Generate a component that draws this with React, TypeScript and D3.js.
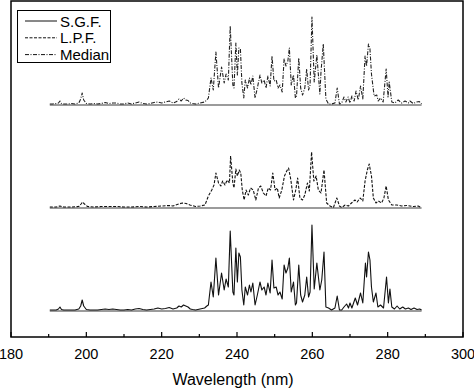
import { useEffect, useRef } from "react";
import * as d3 from "d3";

// [wavelength (nm), intensity above the trace's own baseline]
const sgfData: [number, number][] = [
  [190.3, 1], [191, 1], [192, 1], [192.6, 2], [193, 4], [193.4, 1.5], [194, 1], [195, 1], [196, 1], [197, 1],
  [198, 2], [198.5, 5], [198.9, 11], [199.3, 5], [200, 1.5], [201, 1], [202, 1], [203, 1], [204, 1.5], [205, 2],
  [206, 1.5], [207, 2], [208, 1.5], [209, 1], [210, 1], [211, 1.5], [212, 1], [213, 2], [214, 2.5], [215, 1.5],
  [216, 1], [217, 1.5], [218, 2], [219, 3], [220, 2], [221, 2.5], [222, 3.5], [223, 2], [224, 3], [224.6, 5],
  [225.2, 4], [225.8, 6], [226.4, 5], [227, 4], [227.6, 2], [228.2, 1.5], [229, 1], [229.6, 1.5], [230.2, 2],
  [231.4, 3], [232, 5], [232.4, 6], [233.1, 29], [233.7, 14], [234.4, 53], [235.1, 16], [235.9, 38], [236.6, 21],
  [237.1, 32], [237.7, 24], [238.2, 80], [238.9, 19], [239.2, 16], [239.7, 63], [240.1, 29], [240.5, 58],
  [240.9, 54], [241.3, 21], [241.8, 6], [242.2, 24], [242.8, 16], [243.3, 26], [243.7, 19], [244.2, 28],
  [244.8, 6], [245.4, 16], [246.1, 29], [246.6, 21], [247.2, 24], [247.7, 16], [248.2, 28], [248.8, 18],
  [249.3, 51], [249.8, 23], [250.4, 24], [250.9, 16], [251.4, 19], [252, 12], [252.5, 46], [253, 38],
  [253.5, 43], [253.9, 53], [254.4, 19], [255, 29], [255.5, 6], [255.8, 8], [256.4, 46], [256.9, 16],
  [257.4, 9], [258, 16], [258.5, 34], [259, 14], [259.4, 19], [259.9, 86], [260.5, 22], [261.2, 48], [262, 21],
  [262.5, 31], [263.1, 59], [263.6, 4], [264.3, 3], [265.1, 1], [266, 3], [266.6, 15], [267.2, 1], [267.8, 1],
  [268.4, 4], [269.1, 7], [269.6, 3], [270, 8], [270.5, 3], [271.4, 13], [272, 6], [272.8, 18], [273.4, 8],
  [274.1, 48], [274.4, 34], [274.9, 59], [275.3, 51], [275.7, 24], [276.2, 9], [276.9, 18], [277.4, 4],
  [278.1, 6], [278.9, 3], [279.7, 34], [280.2, 8], [280.6, 22], [281.1, 4], [281.8, 2], [282.5, 5], [283.2, 2],
  [284, 4], [284.7, 2], [285.5, 3], [286.2, 1.5], [287, 3], [287.8, 1.5], [288.5, 2], [289, 1],
];

const lpfData: [number, number][] = [
  [190.3, 1], [192, 1], [193, 2], [194, 1], [196, 1], [198, 1.5], [198.6, 4], [199, 6], [199.5, 4], [200.3, 1.5],
  [202, 1], [204, 1.5], [206, 1.5], [208, 1.5], [210, 1], [212, 1], [214, 1.5], [216, 1], [218, 1.5], [220, 2],
  [222, 2.5], [223, 2], [224.5, 4], [225.5, 5], [226.5, 4.5], [227.5, 3], [229, 1.5], [230.2, 2], [231.5, 3],
  [232.4, 12], [233.3, 18], [233.9, 23], [234.4, 35], [235.1, 25], [235.7, 22], [236.2, 27], [236.8, 23],
  [237.4, 28], [238, 25], [238.3, 52], [238.9, 25], [239.2, 20], [239.7, 39], [240.1, 32], [240.6, 38],
  [241, 35], [241.4, 18], [241.9, 8], [242.4, 18], [243, 13], [243.6, 20], [244.3, 18], [245, 8], [245.7, 20],
  [246.3, 22], [247, 15], [247.7, 12], [248.3, 20], [248.9, 18], [249.5, 35], [250.1, 18], [250.7, 20],
  [251.2, 10], [251.9, 18], [252.6, 32], [253.2, 37], [253.7, 40], [254.3, 28], [255, 8], [255.6, 18],
  [256.1, 30], [256.7, 10], [257.4, 8], [258, 13], [258.7, 25], [259.2, 17], [259.8, 56], [260.4, 27],
  [261, 32], [261.6, 18], [262.3, 15], [263.1, 38], [263.8, 5], [264.7, 2], [265.6, 0.5], [266.5, 10],
  [267.2, 2], [267.8, 0.5], [268.7, 3], [269.6, 2], [270.4, 5], [271.3, 8], [271.9, 6], [272.7, 10], [273.4, 7],
  [274, 27], [274.6, 38], [275.1, 44], [275.7, 32], [276.2, 10], [276.9, 5], [277.5, 7], [278.4, 5], [279, 10],
  [279.6, 22], [280.2, 8], [281.1, 3], [282.4, 3], [283.7, 2], [285.1, 2.5], [286.8, 1.5], [288.1, 2], [289, 0.5],
];

const medianData: [number, number][] = [
  [190.3, 1], [191, 1], [192, 1.5], [192.6, 2], [193, 4], [193.4, 1.5], [194, 1], [195, 1], [196, 1.5], [197, 1],
  [198, 2], [198.5, 6], [198.9, 12], [199.3, 5], [200, 1.5], [201, 1], [202, 1.5], [203, 1], [204, 1.5], [205, 2.5],
  [206, 1.5], [207, 2], [208, 2], [209, 1], [210, 1], [211, 2], [212, 1], [213, 2], [214, 3], [215, 1.5],
  [216, 1], [217, 1.5], [218, 2.5], [219, 3], [220, 2], [221, 3], [222, 4], [223, 2], [224, 3.5], [224.6, 6],
  [225.2, 4], [225.8, 7], [226.4, 5], [227, 4.5], [227.6, 2], [228.2, 1.5], [229, 1], [229.6, 1.5], [230.2, 2],
  [231.4, 3], [232, 5], [232.4, 7], [233.1, 27], [233.7, 15], [234.4, 53], [235.1, 17], [235.9, 38], [236.6, 22],
  [237.1, 31], [237.7, 25], [238.2, 79], [238.9, 20], [239.2, 17], [239.7, 62], [240.1, 30], [240.5, 57],
  [240.9, 56], [241.3, 22], [241.8, 7], [242.2, 25], [242.8, 17], [243.3, 27], [243.7, 20], [244.2, 29],
  [244.8, 7], [245.4, 17], [246.1, 30], [246.6, 22], [247.2, 25], [247.7, 17], [248.2, 29], [248.8, 19],
  [249.3, 49], [249.8, 24], [250.4, 25], [250.9, 17], [251.4, 20], [252, 13], [252.5, 46], [253, 39],
  [253.5, 44], [253.9, 57], [254.4, 20], [255, 30], [255.5, 7], [255.8, 9], [256.4, 47], [256.9, 17],
  [257.4, 10], [258, 17], [258.5, 36], [259, 15], [259.4, 20], [259.9, 88], [260.5, 23], [261.2, 50], [262, 11],
  [262.3, 33], [262.9, 61], [263.6, 6], [264.3, 1], [265.1, 1], [266, 2], [266.6, 17], [267.2, 1], [267.8, 2],
  [268.4, 8], [268.9, 3], [269.5, 8], [270, 2], [270.5, 9], [271.1, 4], [271.6, 14], [272.2, 5], [272.8, 19],
  [273.4, 6], [274, 49], [274.4, 39], [274.9, 61], [275.3, 56], [275.7, 31], [276.4, 9], [277.1, 10],
  [277.5, 4], [278.1, 7], [278.8, 3], [279.6, 36], [280.1, 8], [280.4, 23], [281.1, 3], [281.9, 2], [282.8, 5],
  [283.7, 2], [284.6, 4], [285.5, 2], [285.9, 4], [286.8, 1.5], [287.7, 3], [288.4, 3.5], [289, 1],
];

const seriesNames = ["S.G.F.", "L.P.F.", "Median"];
const seriesOffsets = [0, 103, 206];
const seriesDashes = ["none", "3,1.5", "4,1.5,1,1.5"];
const xTicks = [180, 200, 220, 240, 260, 280, 300];
const xMinorTicks = [190, 210, 230, 250, 270, 290];
const traceRange = [190.3, 289];

export default function App() {
  const ref = useRef<SVGSVGElement>(null);

  useEffect(() => {
    const width = 474;
    const height = 391;
    const margin = { top: 1, right: 11, bottom: 54, left: 11 };
    const svg = d3.select(ref.current);
    svg.selectAll("*").remove();

    const font = "Arial, 'Liberation Sans', Helvetica, sans-serif";
    const x = d3.scaleLinear().domain([180, 300]).range([margin.left, width - margin.right]);
    const y = d3.scaleLinear().domain([-26, 310]).range([height - margin.bottom, margin.top]);

    // grey baselines under each trace
    seriesOffsets.forEach((off) => {
      svg.append("line")
        .attr("x1", x(traceRange[0])).attr("x2", x(traceRange[1]))
        .attr("y1", y(off)).attr("y2", y(off))
        .attr("stroke", "#7a7a7a").attr("stroke-width", 1.5);
    });

    const datasets = [sgfData, lpfData, medianData];
    datasets.forEach((data, i) => {
      const line = d3.line<[number, number]>()
        .x((d) => x(d[0]))
        .y((d) => y(d[1] + seriesOffsets[i]));
      svg.append("path")
        .datum(data)
        .attr("fill", "none")
        .attr("stroke", i === 2 ? "#222" : "#111")
        .attr("stroke-width", 1.1)
        .attr("stroke-linejoin", "round")
        .attr("stroke-dasharray", seriesDashes[i])
        .attr("d", line);
    });

    // frame
    svg.append("rect")
      .attr("x", margin.left).attr("y", margin.top)
      .attr("width", width - margin.left - margin.right)
      .attr("height", height - margin.top - margin.bottom)
      .attr("fill", "none").attr("stroke", "#000").attr("stroke-width", 1.5);

    const axisY = height - margin.bottom;
    const ticks = svg.append("g").attr("stroke", "#000").attr("stroke-width", 1.2);
    xTicks.forEach((t) => {
      ticks.append("line").attr("x1", x(t)).attr("x2", x(t)).attr("y1", axisY).attr("y2", axisY - 5);
    });
    xMinorTicks.forEach((t) => {
      ticks.append("line").attr("x1", x(t)).attr("x2", x(t)).attr("y1", axisY).attr("y2", axisY - 3);
    });

    svg.append("g")
      .selectAll("text")
      .data(xTicks)
      .enter()
      .append("text")
      .attr("x", (d) => x(d))
      .attr("y", axisY + 22)
      .attr("text-anchor", "middle")
      .attr("font-family", font)
      .attr("font-size", 14.5)
      .text((d) => d);

    svg.append("text")
      .attr("x", x(240) - 4)
      .attr("y", 385)
      .attr("text-anchor", "middle")
      .attr("font-family", font)
      .attr("font-size", 16)
      .text("Wavelength (nm)");

    // legend
    const legend = svg.append("g");
    legend.append("rect")
      .attr("x", 17.5).attr("y", 10.5).attr("width", 93).attr("height", 52)
      .attr("fill", "#fff").attr("stroke", "#000").attr("stroke-width", 1);
    seriesNames.forEach((name, i) => {
      const ly = 21 + i * 16.8;
      legend.append("line")
        .attr("x1", 25).attr("x2", 57).attr("y1", ly).attr("y2", ly)
        .attr("stroke", "#111").attr("stroke-width", 1)
        .attr("stroke-dasharray", seriesDashes[i]);
      legend.append("text")
        .attr("x", 60).attr("y", ly + 5.5)
        .attr("font-family", font).attr("font-size", 15)
        .text(name);
    });
  }, []);

  return (
    <svg
      ref={ref}
      width={474}
      height={391}
      style={{ position: "absolute", left: 0, top: 0, background: "#fff" }}
    />
  );
}
